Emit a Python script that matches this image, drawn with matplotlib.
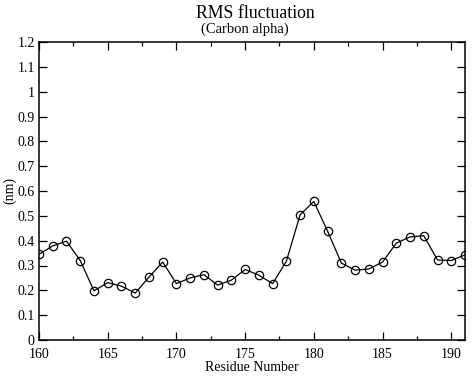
import matplotlib
matplotlib.use("Agg")
import matplotlib.pyplot as plt
from matplotlib.ticker import MultipleLocator

residues = list(range(160, 192))
rmsf = [0.345, 0.379, 0.398, 0.320, 0.198, 0.231, 0.217, 0.189, 0.253, 0.314,
        0.227, 0.250, 0.263, 0.221, 0.241, 0.284, 0.261, 0.227, 0.317, 0.504,
        0.558, 0.438, 0.310, 0.281, 0.286, 0.314, 0.390, 0.415, 0.420, 0.322,
        0.320, 0.343]

plt.rcParams['font.family'] = ['Liberation Serif', 'DejaVu Serif']

fig = plt.figure(figsize=(4.74, 3.79), dpi=100)
ax = fig.add_axes([39/474, 1-340/379, (465-39)/474, (340-42)/379])

ax.plot(residues, rmsf, color='black', lw=0.9, marker='o', markersize=6,
        markerfacecolor='none', markeredgecolor='black', markeredgewidth=0.9)

ax.set_xlim(160, 191)
ax.set_ylim(0, 1.2)
ax.xaxis.set_major_locator(MultipleLocator(5))
ax.xaxis.set_minor_locator(MultipleLocator(2.5))
ax.yaxis.set_major_locator(MultipleLocator(0.1))

def yfmt(v, pos):
    s = ('%.1f' % v)
    if s.endswith('.0'):
        s = s[:-2]
    return s
ax.yaxis.set_major_formatter(plt.FuncFormatter(yfmt))

ax.tick_params(which='both', direction='in', top=True, right=True, labelsize=10,
               width=0.9)
ax.tick_params(axis='x', pad=5.5)
ax.tick_params(axis='y', pad=3)
ax.tick_params(which='major', length=5.8)
ax.tick_params(which='minor', length=3)
for s in ax.spines.values():
    s.set_linewidth(1.1)

ax.set_xlabel('Residue Number', fontsize=10, labelpad=0.5)
ax.set_ylabel('(nm)', fontsize=10, labelpad=1)

fig.text(0.539, 1-18.5/379, 'RMS fluctuation', ha='center', va='baseline', fontsize=12.8)
fig.text(0.516, 1-33/379, '(Carbon alpha)', ha='center', va='baseline', fontsize=10.5)

fig.savefig('out.png', dpi=100)
